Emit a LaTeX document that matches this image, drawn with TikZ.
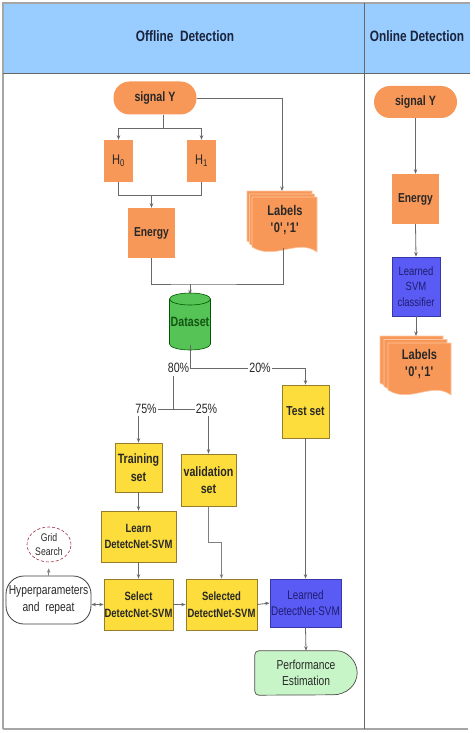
\documentclass[tikz,border=0pt]{standalone}
\usepackage{fontspec}
\setmainfont{Liberation Sans}[FakeStretch=0.79]
\usetikzlibrary{shapes.geometric,arrows.meta}
\definecolor{hdr}{RGB}{153,204,255}
\definecolor{org}{RGB}{248,152,88}
\definecolor{yel}{RGB}{253,221,60}
\definecolor{yelb}{RGB}{150,125,45}
\definecolor{blu}{RGB}{90,90,245}
\definecolor{blub}{RGB}{55,55,170}
\definecolor{navy}{RGB}{30,30,110}
\definecolor{grn}{RGB}{85,195,85}
\definecolor{dgrn}{RGB}{20,85,20}
\definecolor{lgrn}{RGB}{200,245,200}
\definecolor{ln}{RGB}{105,105,105}
\definecolor{txt}{RGB}{40,40,40}
\definecolor{hdrtxt}{RGB}{25,35,60}
\definecolor{gridc}{RGB}{160,40,60}
\newcommand\docshape[4]{%
  \filldraw[fill=org,draw=org!55!white,line width=0.6pt] (#1,#2) -- ({#1+#3},#2) -- ({#1+#3},{#2+#4})
  .. controls ({#1+0.7*#3},{#2+#4-14}) and ({#1+0.35*#3},{#2+#4+9}) .. (#1,{#2+#4-5}) -- cycle;}
\begin{document}
\begin{tikzpicture}[x=1pt,y=-1pt,
  lnst/.style={draw=ln,line width=0.8pt},
  arr/.style={lnst,-{Stealth[length=4.5pt,width=3.5pt]}},
  darr/.style={lnst,{Stealth[length=4.5pt,width=3.5pt]}-{Stealth[length=4.5pt,width=3.5pt]}},
  base/.style={rectangle,inner sep=0pt,align=center,text=txt},
  obox/.style={base,fill=org,font=\fontsize{13}{17}\selectfont\bfseries},
  ybox/.style={base,fill=yel,draw=yelb,line width=0.7pt,font=\fontsize{13.5}{17.5}\selectfont\bfseries},
  ysmall/.style={ybox,font=\fontsize{12}{16.5}\selectfont\bfseries},
  bbox/.style={base,fill=blu,draw=blub,line width=0.7pt,text=navy},
  stad/.style={base,fill=org,rounded corners=16pt,font=\fontsize{13.5}{15}\selectfont\bfseries},
  pct/.style={inner sep=1pt,text=txt,font=\fontsize{13.5}{15}\selectfont},
  hdrt/.style={text=hdrtxt,font=\fontsize{15}{17}\selectfont\bfseries}
]
\useasboundingbox (0,0) rectangle (474,733);
% frame and header
\fill[hdr] (3,3) rectangle (470,73);
\draw[gray!70,line width=1.2pt] (3,729) -- (3,3) -- (470,3);
\draw[gray!70,line width=1.2pt] (3,729) -- (468,729);
\draw[gray!80!black,line width=0.8pt] (3,73) -- (470,73);
\draw[gray!80!black,line width=0.8pt] (364,3) -- (364,729);
\node[hdrt] (hoff) at (185,36) {Offline\ \ Detection};
\node[hdrt] (hon) at (417,36) {Online Detection};

% offline nodes
\node[stad,minimum width=83pt,minimum height=33pt] (sig) at (155,98) {signal Y};
\node[obox,minimum width=29pt,minimum height=42pt,font=\fontsize{14}{16}\selectfont] (h0) at (118.5,161) {H\textsubscript{0}};
\node[obox,minimum width=29pt,minimum height=42pt,font=\fontsize{14}{16}\selectfont] (h1) at (201.5,161) {H\textsubscript{1}};
\node[obox,minimum width=47pt,minimum height=50pt] (en) at (151.5,233) {Energy};
\docshape{247}{191}{65}{55}
\docshape{249.5}{194}{65}{55}
\docshape{252}{197}{65}{55}
\node[base,minimum width=65pt,minimum height=55pt,font=\fontsize{14}{17}\selectfont\bfseries] (labs) at (285,220) {Labels\\\textquotesingle0\textquotesingle,\textquotesingle1\textquotesingle};
\coordinate (labin) at (282,191);
% dataset cylinder
\filldraw[fill=grn,draw=green!35!black,line width=0.6pt] (169.5,299) -- (169.5,344) arc[start angle=180,end angle=360,x radius=20.5pt,y radius=6pt] -- (210.5,299) arc[start angle=0,end angle=180,x radius=20.5pt,y radius=6pt] -- cycle;
\draw[green!35!black,line width=0.6pt] (169.5,299) arc[start angle=180,end angle=360,x radius=20.5pt,y radius=6pt];
\node[base,minimum width=41pt,minimum height=57pt,text=dgrn,font=\fontsize{13.5}{15}\selectfont\bfseries] (ds) at (190,322) {Dataset};
\node[pct] (p80) at (178.5,368) {80\%};
\node[ybox,minimum width=47pt,minimum height=53pt,font=\fontsize{13}{16}\selectfont\bfseries] (test) at (305.5,411.5) {Test set};
\node[pct] (p75) at (146,409) {75\%};
\node[pct] (p25) at (206.5,409) {25\%};
\node[ybox,minimum width=47pt,minimum height=49pt] (train) at (138.5,467.5) {Training\\set};
\node[ybox,minimum width=55pt,minimum height=52pt] (val) at (208.5,480) {validation\\set};
\node[ysmall,minimum width=75pt,minimum height=51pt] (learn) at (138.5,536.5) {Learn\\DetetcNet-SVM};
\node[ysmall,minimum width=69pt,minimum height=51pt] (sel) at (138.5,604.5) {Select\\DetetcNet-SVM};
\node[ysmall,minimum width=71pt,minimum height=51pt] (seld) at (221.5,604.5) {Selected\\DetectNet-SVM};
\node[bbox,minimum width=71pt,minimum height=48pt,font=\fontsize{12.5}{16.5}\selectfont] (lrn) at (305.5,603) {Learned\\DetectNet-SVM};
\node[base,minimum width=102pt,minimum height=44pt] (perf) at (306,673) {};
\filldraw[fill=lgrn,draw=gray!60!black,line width=0.7pt,rounded corners=4pt] (perf.south west) -- (perf.north west) -- ([xshift=-24pt]perf.north east) [sharp corners] arc[start angle=90,end angle=-90,x radius=24pt,y radius=22pt] [rounded corners=4pt] -- cycle;
\node[base,font=\fontsize{13}{16}\selectfont] (perft) at (perf.center) {Performance\\Estimation};
\node[ellipse,draw=gridc,densely dashed,line width=0.6pt,minimum width=44pt,minimum height=35pt,inner sep=0pt,align=center,text=txt,font=\fontsize{11}{14}\selectfont] (grid) at (49,544.5) {Grid\\Search};
\node[base,draw=gray!50!black,fill=white,line width=0.8pt,rounded corners=18pt,minimum width=85pt,minimum height=48pt,font=\fontsize{13}{17}\selectfont] (hyp) at (48.5,600) {Hyperparameters\\and\ \ repeat};

% offline connectors
\draw[arr] (sig.east) -| (labin);
\coordinate (b1) at (163,128);
\draw[lnst] ([xshift=8pt]sig.south) -- (b1);
\draw[arr] (b1) -| (h0.north);
\draw[arr] (b1) -| (h1.north);
\coordinate (b2) at (151.5,195);
\draw[lnst] (h0.south) |- (b2);
\draw[lnst] (h1.south) |- (b2);
\draw[arr] (b2) -- (en.north);
\coordinate (b3) at (190,284);
\draw[lnst] (en.south) |- (b3) -| ([xshift=-2pt]labs.south);
\draw[arr] (b3) -- ([yshift=-1pt]ds.north);
\coordinate (b4) at (190,368);
\draw[lnst] ([yshift=6pt]ds.south) -- (b4);
\draw[arr] (b4) -| (test.north);
\node[pct,fill=white] (p20) at (260,368) {20\%};
\coordinate (b5) at (173,409);
\draw[lnst] (b5 |- p80.south) ++(0,2) -- (b5);
\draw[lnst] (p75.east) -- (p25.west);
\draw[arr] ([yshift=-1pt]p75.south -| train.north) -- (train.north);
\draw[arr] ([yshift=-1pt]p25.south -| val.north) -- (val.north);
\draw[arr] (train.south) -- (learn.north);
\draw[arr] (learn.south) -- (sel.north);
\draw[darr] (sel.west -| hyp.east) -- (sel.west);
\draw[arr,shorten >=6pt,draw=gray] (hyp.north) -- (grid.south);
\draw[arr] (sel.east) -- (seld.west);
\draw[draw=gray,line width=0.5pt,-{Stealth[length=4.5pt,width=3.5pt]}] (val.south) -- ++(0,36) -| (seld.north);
\draw[arr] (seld.east) -- (lrn.west);
\draw[arr] (test.south) -- (lrn.north);
\draw[arr] (lrn.south) -- (perf.north);

% online nodes
\node[stad,minimum width=83pt,minimum height=32pt] (osig) at (415.5,102) {signal Y};
\node[obox,minimum width=47pt,minimum height=50pt] (oen) at (415.5,199) {Energy};
\node[bbox,minimum width=48pt,minimum height=59pt,font=\fontsize{12}{15.5}\selectfont] (osvm) at (416,286.5) {Learned\\SVM\\classifier};
\docshape{380}{336}{63}{52}
\docshape{384}{339.5}{63}{52}
\docshape{388}{343}{63}{52}
\node[base,minimum width=63pt,minimum height=50pt,font=\fontsize{14}{17}\selectfont\bfseries] (olabs) at (419.5,364) {Labels\\\textquotesingle0\textquotesingle,\textquotesingle1\textquotesingle};
\coordinate (olabin) at (416,336);
\draw[arr] (osig.south) -- (oen.north);
\draw[arr] (oen.south) -- (osvm.north);
\draw[arr] (osvm.south) -- (olabin);
\end{tikzpicture}
\end{document}
